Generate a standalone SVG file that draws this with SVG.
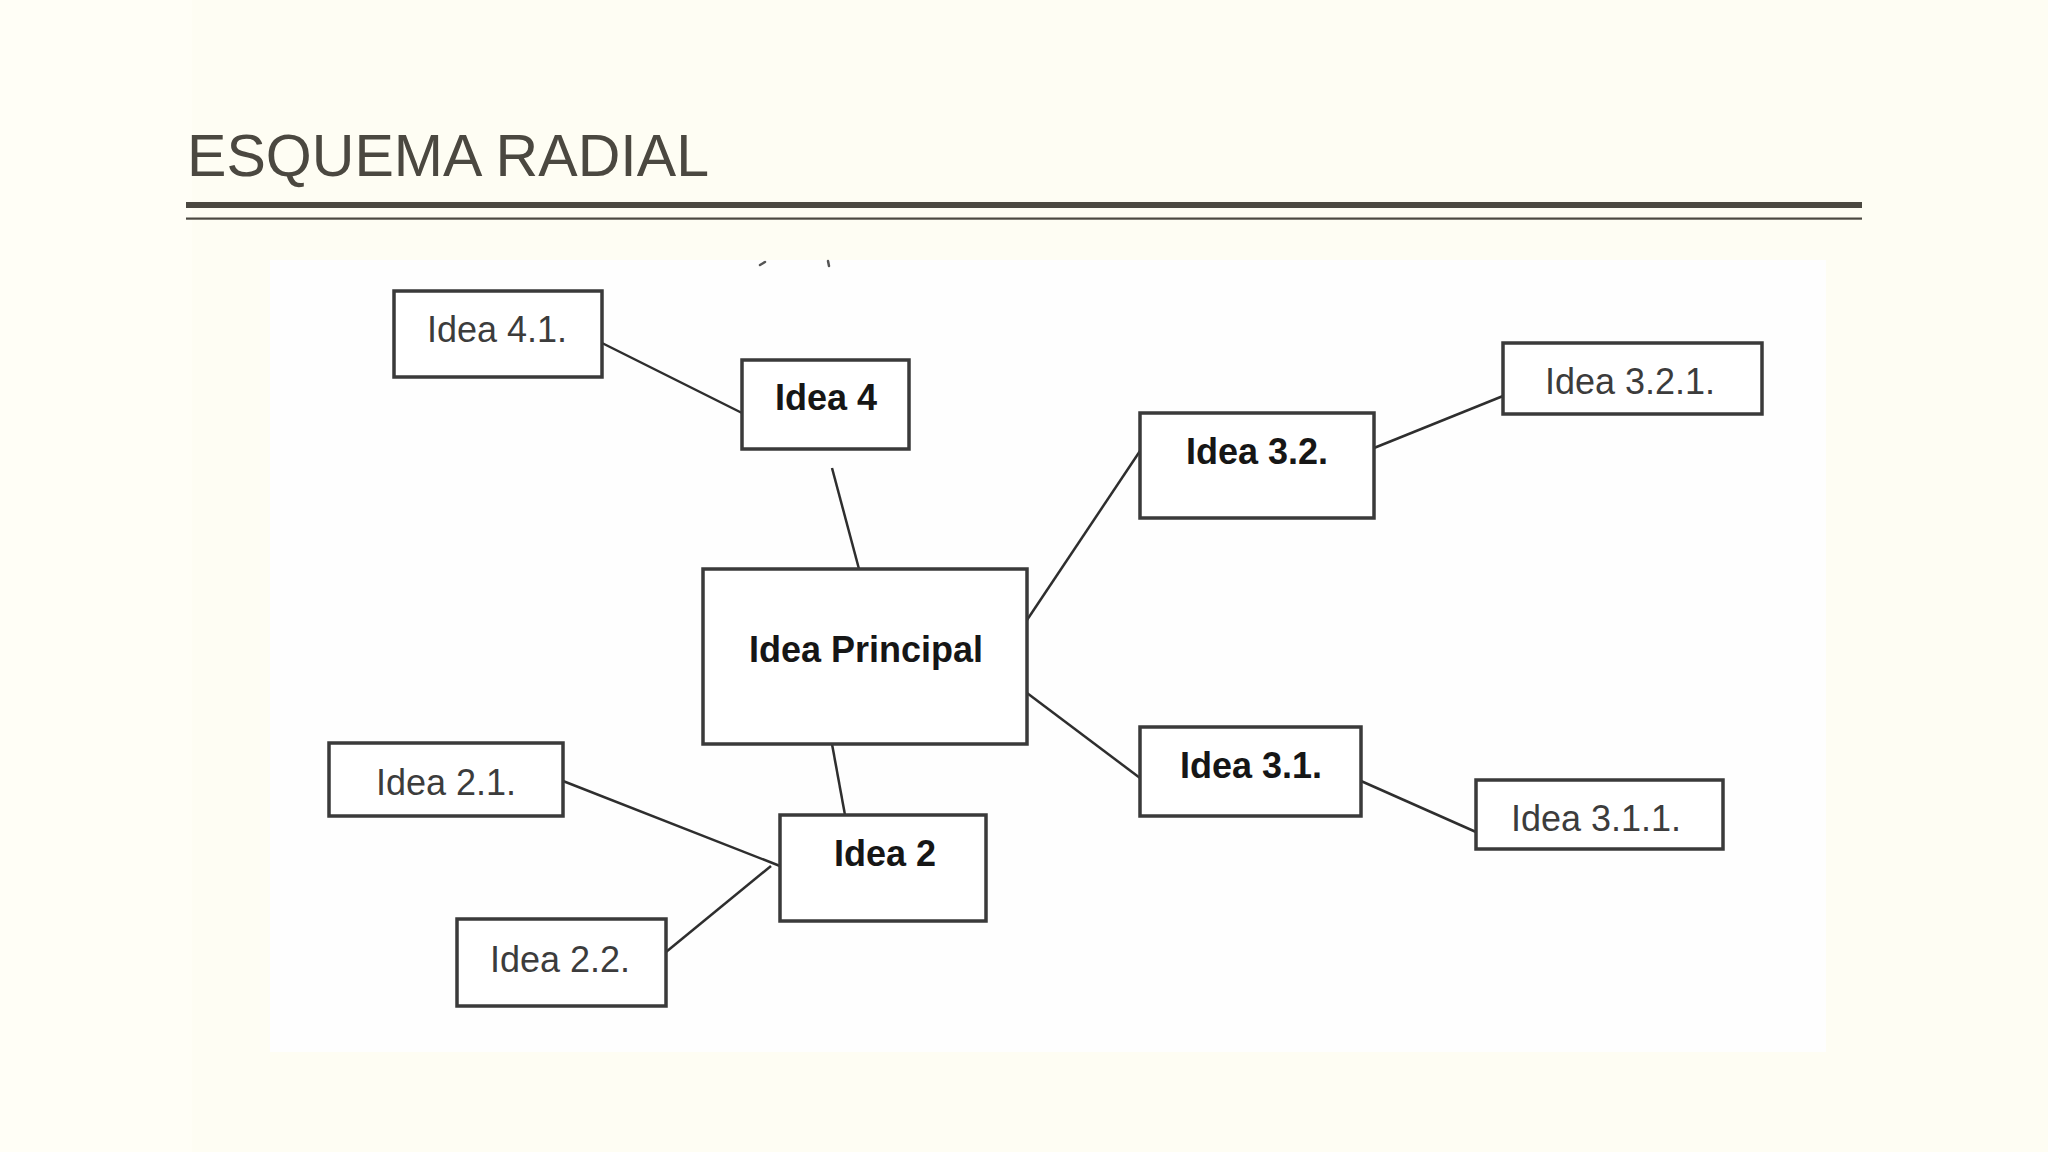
<svg xmlns="http://www.w3.org/2000/svg" width="2048" height="1152" viewBox="0 0 2048 1152">
<style>
.box{fill:#ffffff;stroke:#3a3a3a;stroke-width:3.5}
.lbl{font-family:"Liberation Sans",Arial,sans-serif;font-size:36px;text-anchor:middle}
.b{font-weight:bold;fill:#161616}
.r{fill:#3c3c3c}
.con{stroke:#2e2e2e;stroke-width:2.5;fill:none}
</style>
<rect x="0" y="0" width="2048" height="1152" fill="#fefdf3"/>
<rect x="0" y="0" width="192" height="1152" fill="#fffef6"/>
<text x="187" y="176" font-family="'Liberation Sans',Arial,sans-serif" font-size="60" fill="#4b4840" textLength="522" lengthAdjust="spacingAndGlyphs">ESQUEMA RADIAL</text>
<rect x="186" y="202" width="1676" height="6" fill="#4b4840"/>
<rect x="186" y="217.5" width="1676" height="2.2" fill="#4b4840"/>
<rect x="270" y="260" width="1556" height="792" fill="#fefefe"/>
<g id="artifacts" stroke="#555" stroke-width="2.5" stroke-linecap="round">
<line x1="760" y1="265" x2="765" y2="262"/>
<line x1="828" y1="261" x2="829" y2="266"/>
</g>
<g id="connectors" class="con">
<line x1="602" y1="343" x2="742" y2="413"/>
<line x1="832" y1="468" x2="859" y2="569"/>
<line x1="1027" y1="620" x2="1140" y2="451"/>
<line x1="1374" y1="448" x2="1503" y2="396"/>
<line x1="1027" y1="693" x2="1140" y2="778"/>
<line x1="1361" y1="781" x2="1476" y2="832"/>
<line x1="832" y1="744" x2="845" y2="815"/>
<line x1="563" y1="781" x2="780" y2="866"/>
<line x1="666" y1="952" x2="771" y2="866"/>
</g>
<g id="idea41"><rect class="box" x="394" y="291" width="208" height="86"/><text class="lbl r" x="497" y="342">Idea 4.1.</text></g>
<g id="idea4"><rect class="box" x="742" y="360" width="167" height="89"/><text class="lbl b" x="826" y="410">Idea 4</text></g>
<g id="idea321"><rect class="box" x="1503" y="343" width="259" height="71"/><text class="lbl r" x="1630" y="394">Idea 3.2.1.</text></g>
<g id="idea32"><rect class="box" x="1140" y="413" width="234" height="105"/><text class="lbl b" x="1257" y="464">Idea 3.2.</text></g>
<g id="principal"><rect class="box" x="703" y="569" width="324" height="175"/><text class="lbl b" x="866" y="662">Idea Principal</text></g>
<g id="idea31"><rect class="box" x="1140" y="727" width="221" height="89"/><text class="lbl b" x="1251" y="778">Idea 3.1.</text></g>
<g id="idea311"><rect class="box" x="1476" y="780" width="247" height="69"/><text class="lbl r" x="1596" y="831">Idea 3.1.1.</text></g>
<g id="idea21"><rect class="box" x="329" y="743" width="234" height="73"/><text class="lbl r" x="446" y="795">Idea 2.1.</text></g>
<g id="idea2"><rect class="box" x="780" y="815" width="206" height="106"/><text class="lbl b" x="885" y="866">Idea 2</text></g>
<g id="idea22"><rect class="box" x="457" y="919" width="209" height="87"/><text class="lbl r" x="560" y="972">Idea 2.2.</text></g>
</svg>
